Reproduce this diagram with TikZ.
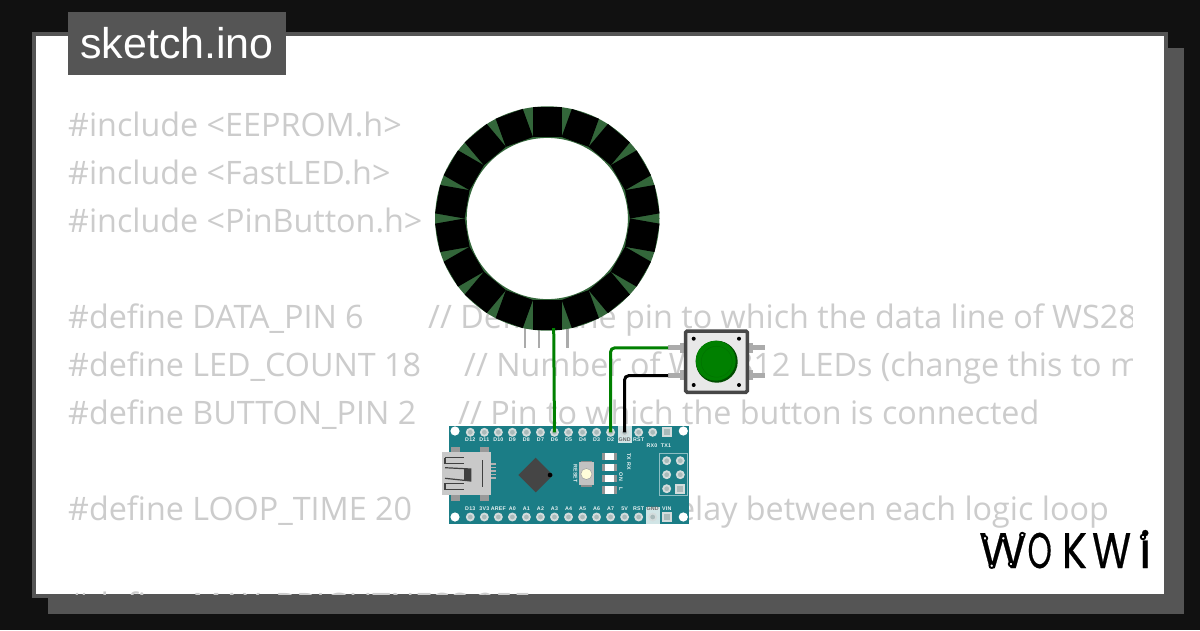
\documentclass[tikz,border=0pt]{standalone}
\usepackage{fontspec}
\setmainfont{Open Sans}
\newfontfamily\titlefont{Liberation Sans}
\newfontfamily\boardfont[LetterSpace=4]{Liberation Sans}
\newfontfamily\logofont[FakeBold=.5]{Poppins}
\usetikzlibrary{positioning}
\definecolor{pagedark}{HTML}{111111}
\definecolor{framegray}{HTML}{555555}
\definecolor{codegray}{HTML}{CCCCCC}
\definecolor{ringgreen}{HTML}{33663A}
\definecolor{boardteal}{HTML}{1B7D86}
\definecolor{wiregreen}{HTML}{008000}
\definecolor{padlight}{HTML}{D3DCDC}
\definecolor{padgray}{HTML}{A9BABA}
\tikzset{
  codeline/.style={
    anchor=base west,
    inner sep=0pt,
    text=codegray,
    font=\fontsize{32.3}{33}\selectfont},
  pinpad/.style={circle, inner sep=0pt, minimum size=7pt, fill=padgray, draw=padlight, line width=1.8pt},
  pinsquare/.style={rectangle, inner sep=0pt, minimum size=8pt, fill=padgray, draw=padlight, line width=2pt},
  pinlabel/.style={inner sep=0pt, text=white!90!boardteal, font=\boardfont\bfseries\fontsize{5.3}{6}\selectfont},
  sidelabel/.style={pinlabel, rotate=-90},
  pinmark/.style={fill=white, fill opacity=.8},
  wire/.style={line width=3pt, rounded corners=4pt},
  ledcell/.style={fill=black},
  ledpin/.style={draw=black!33, line width=2.4pt},
  legpin/.style={draw=black!33, line width=5pt},
  usbline/.style={draw=black!75, line width=1.2pt},
  logodot/.style={circle, inner sep=0pt, minimum size=4.5pt, fill=white, draw=black, line width=1.8pt},
}
\begin{document}
\begin{tikzpicture}[x=1pt, y=-1pt]
  \useasboundingbox (0,0) rectangle (1200,630);
  \fill[pagedark] (0,0) rectangle (1200,630);
  \fill[framegray] (48,48) rectangle (1184,614);
  \fill[framegray] (32,32) rectangle (1168,598);
  \fill[white] (36,36) rectangle (1164,594);

  % code behind the parts
  \begin{scope}
    \clip (36,36) rectangle (1132,594);
    \node[codeline] (include1) at (68,136) {\#include <EEPROM.h>};
    \node[codeline] (include2) at (68,184) {\#include <FastLED.h>};
    \node[codeline] (include3) at (68,232) {\#include <PinButton.h>};
    \node[codeline] (define1) at (68,328) {\#define DATA\_PIN 6};
    \node[codeline] (comment1) at (428,328) {// Define the pin to which the data line of WS28};
    \node[codeline] (define2) at (68,376) {\#define LED\_COUNT 18};
    \node[codeline] (comment2) at (464,376) {// Number of WS2812 LEDs (change this to m};
    \node[codeline] (define3) at (68,424) {\#define BUTTON\_PIN 2};
    \node[codeline] (comment3) at (458,424) {// Pin to which the button is connected};
    \node[codeline] (define4) at (68,520) {\#define LOOP\_TIME 20};
    \node[codeline, anchor=base east] (comment4) at (1109,520) {elay between each logic loop};
    \node[codeline] (define5) at (68,616) {\#define MAX\_BRIGHTNESS 255};
  \end{scope}

  \node[fill=framegray, text=white, inner sep=0pt, minimum width=218pt, minimum height=63pt,
    font=\titlefont\fontsize{43}{44}\selectfont] (title) at (177,43.5) {sketch.ino};

  % ring
  \foreach \x in {525,539,553.7,567.5}
    \draw[ledpin] (\x,326) -- (\x,348);
  \coordinate (ringdata) at (553.7,328);
  \fill[ringgreen, even odd rule] (547.3,218.5) circle (112.2) (547.3,218.5) circle (80.6);
  \foreach \a in {10,30,...,350}
    \fill[ledcell, shift={(547.3,218.5)}, rotate=\a] (81.5,-14.4) rectangle (111.4,14.4);

  % board
  \fill[boardteal] (449,426) rectangle (689,524);
  \fill[pinmark] (617.7,426) rectangle (631.7,443);
  \fill[pinmark] (645.7,506.7) rectangle (659.6,524);
  \foreach \p in {(455,431),(683.3,431),(455,517),(683.3,517)}
    \fill[white] \p circle (4.6);
  \foreach \name [count=\i from 0] in {D12,D11,D10,D9,D8,D7,D6,D5,D4,D3,D2,GND,RST,RX0,TX1}
    \node[pinpad] (t\name) at ({470.3+14.03*\i},432.3) {};
  \foreach \name [count=\i from 0] in {D12,D11,D10,D9,D8,D7,D6,D5,D4,D3,D2,RST}
    \node[pinlabel] (lt\name) at ({470.3+14.03*(\i>10 ? \i+1 : \i)},440) {\name};
  \node[pinlabel, text=black!60] (ltGND) at (tGND |- ltD12) {GND};
  \node[pinlabel] (ltRX0) at (652,446) {RX0};
  \node[pinlabel] (ltTX1) at (665.9,446) {TX1};
  \foreach \name [count=\i from 0] in {D13,3V3,AREF,A0,A1,A2,A3,A4,A5,A6,A7,5V,RST,GND,VIN}
    \node[pinpad] (b\name) at ({470.3+14.03*\i},517) {};
  \foreach \name [count=\i from 0] in {D13,3V3,AREF,A0,A1,A2,A3,A4,A5,A6,A7,5V,RST,VIN}
    \node[pinlabel] (lb\name) at ({470.3+14.03*(\i>12 ? \i+1 : \i)},509) {\name};
  \node[pinlabel, text=black!60] (lbGND) at (bGND |- lbD13) {GND};
  \node[pinsquare] (tTX1sq) at (tTX1) {};
  \node[pinsquare] (bVINsq) at (bVIN) {};

  % usb socket
  \fill[black!40] (450.7,446.7) rectangle (460,500.7);
  \fill[black!40] (480,446.7) rectangle (489.3,500.7);
  \foreach \y in {464,467.5,471,474.5,478}
    \draw[black!30, line width=1.4pt] (490,\y) -- (496,\y);
  \fill[black!21] (442.3,452.3) rectangle (490.7,495);
  \draw[usbline] (445,457.7) -- (464,457.7) (445,457.7) |- (464,463.3);
  \draw[usbline] (445,483.3) -- (464,483.3) (445,483.3) |- (464,489.3);
  \draw[usbline] (445,467.7) -- (470.7,469) -- (470.7,481) -- (445,478.3);
  \fill[black!75] (464,468.5) rectangle (470.7,481);
  \draw[black!75, line width=1.4pt] (482.3,460) -- (482.3,486.7);

  % chip
  \fill[black!73] (535.7,457.7) -- (553,475) -- (535.7,492.3) -- (518.4,475) -- cycle;
  \fill[black] (550,475) circle (2.3);

  % reset
  \fill[black!45] (581,460.5) rectangle (592,486.8);
  \fill[black!24] (579.3,462.3) rectangle (594,485);
  \fill[yellow!15!white, draw=black!35, line width=.6pt] (586.4,474) circle (5.6);
  \node[sidelabel] (lreset) at (575.5,473.5) {RESET};

  % leds
  \foreach \y in {456.5,467.5,478.5,490} {
    \fill[black!42] (602.3,\y-3.8) rectangle (616.7,\y+3.8);
    \fill[white] (605.3,\y-3.8) rectangle (613.7,\y+3.8);
  }
  \node[sidelabel] (ltx) at (629,456.7) {TX};
  \node[sidelabel] (lrx) at (629,466.7) {RX};
  \node[sidelabel] (lon) at (621,477) {ON};
  \node[sidelabel] (ll) at (621,489) {L};

  % icsp
  \draw[white!50!boardteal, line width=.8pt] (659.3,453.3) rectangle (687.7,495.7);
  \foreach \x/\y in {666.7/460.7,680.3/460.7,666.7/474.7,680.3/474.7,666.7/488.7}
    \node[pinpad] at (\x,\y) {};
  \node[pinsquare] (icsp1) at (680.3,488.7) {};

  % button
  \foreach \y in {347.5,375.3} {
    \draw[legpin] (668,\y) -- (684,\y);
    \draw[legpin] (749,\y) -- (765,\y);
    \fill[black!33] (680,\y-5) rectangle (684,\y+5);
    \fill[black!33] (749,\y-5) rectangle (753,\y+5);
  }
  \coordinate (btnupper) at (668,347.9);
  \coordinate (btnlower) at (668,375.7);
  \draw[fill=black!9, draw=black!72, line width=3.5pt, rounded corners=1.5pt] (685.7,331) rectangle (747.3,392.3);
  \foreach \x/\y in {693.7/338.7,739/338.7,693.7/385,739/385}
    \fill[black] (\x,\y) circle (2);
  \fill[black!70!green] (716.7,361.7) circle (21);
  \fill[wiregreen] (715.7,360.7) circle (20);
  \draw[black!10!wiregreen, line width=.5pt] (716.7,361.7) circle (15.5);

  % wires
  \draw[wire, wiregreen] (ringdata) -- (tD6.center);
  \draw[wire, wiregreen] (tD2.center) |- (btnupper);
  \draw[wire, black] (tGND.center) |- (btnlower);

  % logo
  \node[inner sep=0pt, anchor=base west, text=black, font=\logofont\fontsize{50}{50}\selectfont] (logo) at (979,568)
    {\scalebox{.97}[1]{W}\kern1pt\scalebox{.62}[1]{O}\kern10pt\scalebox{.84}[1]{K}\kern5pt\scalebox{.8}[1]{W}\kern8pt i};
  \foreach \p in {(985,538.3),(1003.3,538.3),(1022.3,535),(991.7,565.7),(1011,564),(1143,537)}
    \node[logodot] at \p {};
\end{tikzpicture}
\end{document}
